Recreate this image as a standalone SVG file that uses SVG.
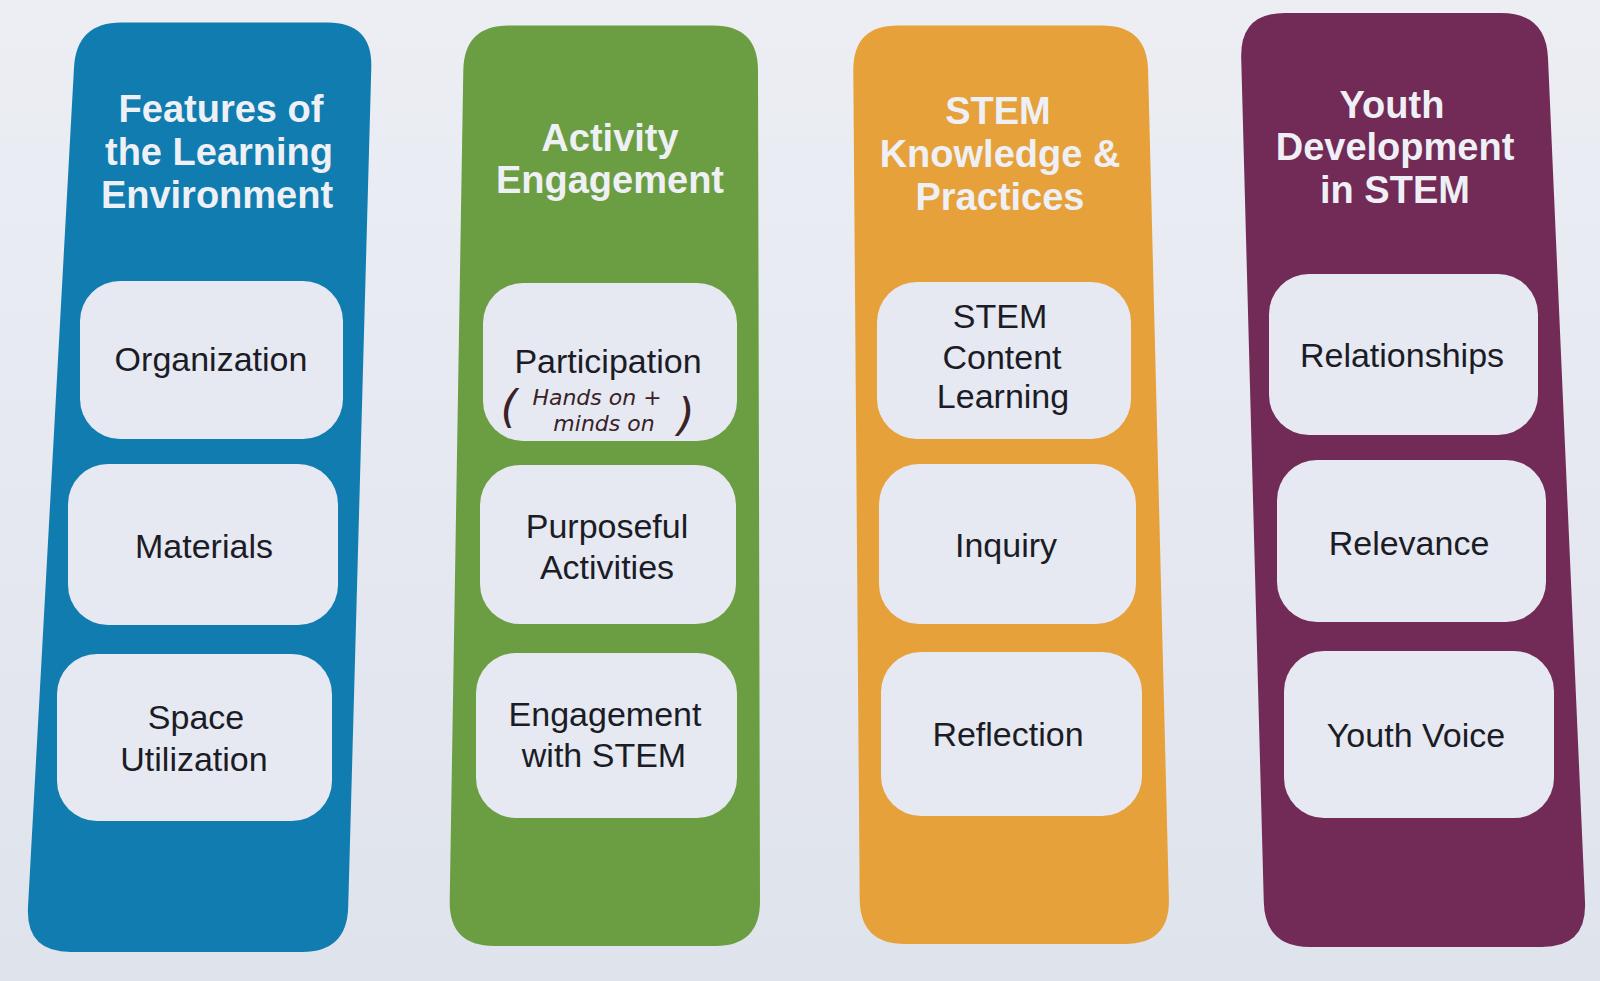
<svg xmlns="http://www.w3.org/2000/svg" width="1600" height="981" viewBox="0 0 1600 981">
<defs>
<linearGradient id="bg" x1="0" y1="0" x2="0" y2="1">
<stop offset="0" stop-color="#eceef4"/>
<stop offset="1" stop-color="#dfe3ec"/>
</linearGradient>
<style>
.hd{font-family:"Liberation Sans",Arial,sans-serif;font-weight:bold;font-size:38px;fill:#eef0f5;text-anchor:middle}
.bx{fill:#e6e9f1}
.lb{font-family:"Liberation Sans",Arial,sans-serif;font-size:34px;fill:#1b1c26;text-anchor:middle}
.hw{font-family:"DejaVu Sans","Liberation Sans",sans-serif;font-style:italic;fill:#3a2228;text-anchor:middle}
</style>
</defs>
<rect width="1600" height="981" fill="url(#bg)"/>

<g id="col-learning-environment">
<path d="M 121.5 22.5 L 327.5 22.5 Q 372.5 22.5 371.3 67.5 L 348.2 907 Q 347 952 302 952 L 70.5 952 Q 25.5 952 28 907 L 74 67.5 Q 76.5 22.5 121.5 22.5 Z" fill="#107cb0"/>
<text class="hd" x="221" y="122">Features of</text>
<text class="hd" x="219" y="165">the Learning</text>
<text class="hd" x="217" y="208">Environment</text>
</g>
<g id="node-organization">
<rect class="bx" x="80" y="281" width="263" height="158" rx="40"/>
<text class="lb" x="211" y="371">Organization</text>
</g>
<g id="node-materials">
<rect class="bx" x="68" y="464" width="270" height="161" rx="40"/>
<text class="lb" x="204" y="558">Materials</text>
</g>
<g id="node-space-utilization">
<rect class="bx" x="57" y="654" width="275" height="167" rx="40"/>
<text class="lb" x="196" y="729">Space</text>
<text class="lb" x="194" y="771">Utilization</text>
</g>

<g id="col-activity-engagement">
<path d="M 509 25.5 L 713 25.5 Q 758 25.5 758 70.5 L 760 901 Q 760 946 715 946 L 494 946 Q 449 946 449.7 901 L 463.3 70.5 Q 464 25.5 509 25.5 Z" fill="#6b9d42"/>
<text class="hd" x="610" y="151">Activity</text>
<text class="hd" x="610" y="193">Engagement</text>
</g>
<g id="node-participation">
<rect class="bx" x="483" y="283" width="254" height="158" rx="40"/>
<text class="lb" x="608" y="373">Participation</text>
<text class="hw" x="509" y="422" font-size="44">(</text>
<text class="hw" x="597" y="405" font-size="22">Hands on +</text>
<text class="hw" x="604" y="431" font-size="22">minds on</text>
<text class="hw" x="686" y="430" font-size="44">)</text>
</g>
<g id="node-purposeful-activities">
<rect class="bx" x="480" y="465" width="256" height="159" rx="40"/>
<text class="lb" x="607" y="538">Purposeful</text>
<text class="lb" x="607" y="579">Activities</text>
</g>
<g id="node-engagement-stem">
<rect class="bx" x="476" y="653" width="261" height="165" rx="40"/>
<text class="lb" x="605" y="726">Engagement</text>
<text class="lb" x="604" y="767">with STEM</text>
</g>

<g id="col-stem-knowledge">
<path d="M 898 25.5 L 1102 25.5 Q 1147 25.5 1148.1 70.5 L 1168.9 899 Q 1170 944 1125 944 L 905 944 Q 860 944 859.7 899 L 853.3 70.5 Q 853 25.5 898 25.5 Z" fill="#e6a13a"/>
<text class="hd" x="998" y="124">STEM</text>
<text class="hd" x="1000" y="167">Knowledge &amp;</text>
<text class="hd" x="1000" y="210">Practices</text>
</g>
<g id="node-stem-content">
<rect class="bx" x="877" y="282" width="254" height="157" rx="40"/>
<text class="lb" x="1000" y="328">STEM</text>
<text class="lb" x="1002" y="369">Content</text>
<text class="lb" x="1003" y="408">Learning</text>
</g>
<g id="node-inquiry">
<rect class="bx" x="879" y="464" width="257" height="160" rx="40"/>
<text class="lb" x="1006" y="557">Inquiry</text>
</g>
<g id="node-reflection">
<rect class="bx" x="881" y="652" width="261" height="164" rx="40"/>
<text class="lb" x="1008" y="746">Reflection</text>
</g>

<g id="col-youth-development">
<path d="M 1285 13 L 1501 13 Q 1546 13 1548 58 L 1585 902 Q 1587 947 1542 947 L 1310 947 Q 1265 947 1263.8 902 L 1241.2 58 Q 1240 13 1285 13 Z" fill="#722a56"/>
<text class="hd" x="1392" y="118">Youth</text>
<text class="hd" x="1395" y="160">Development</text>
<text class="hd" x="1395" y="203">in STEM</text>
</g>
<g id="node-relationships">
<rect class="bx" x="1269" y="274" width="269" height="161" rx="40"/>
<text class="lb" x="1402" y="367">Relationships</text>
</g>
<g id="node-relevance">
<rect class="bx" x="1277" y="460" width="269" height="162" rx="40"/>
<text class="lb" x="1409" y="555">Relevance</text>
</g>
<g id="node-youth-voice">
<rect class="bx" x="1284" y="651" width="270" height="167" rx="40"/>
<text class="lb" x="1416" y="747">Youth Voice</text>
</g>

<g id="connectors"/>
</svg>
